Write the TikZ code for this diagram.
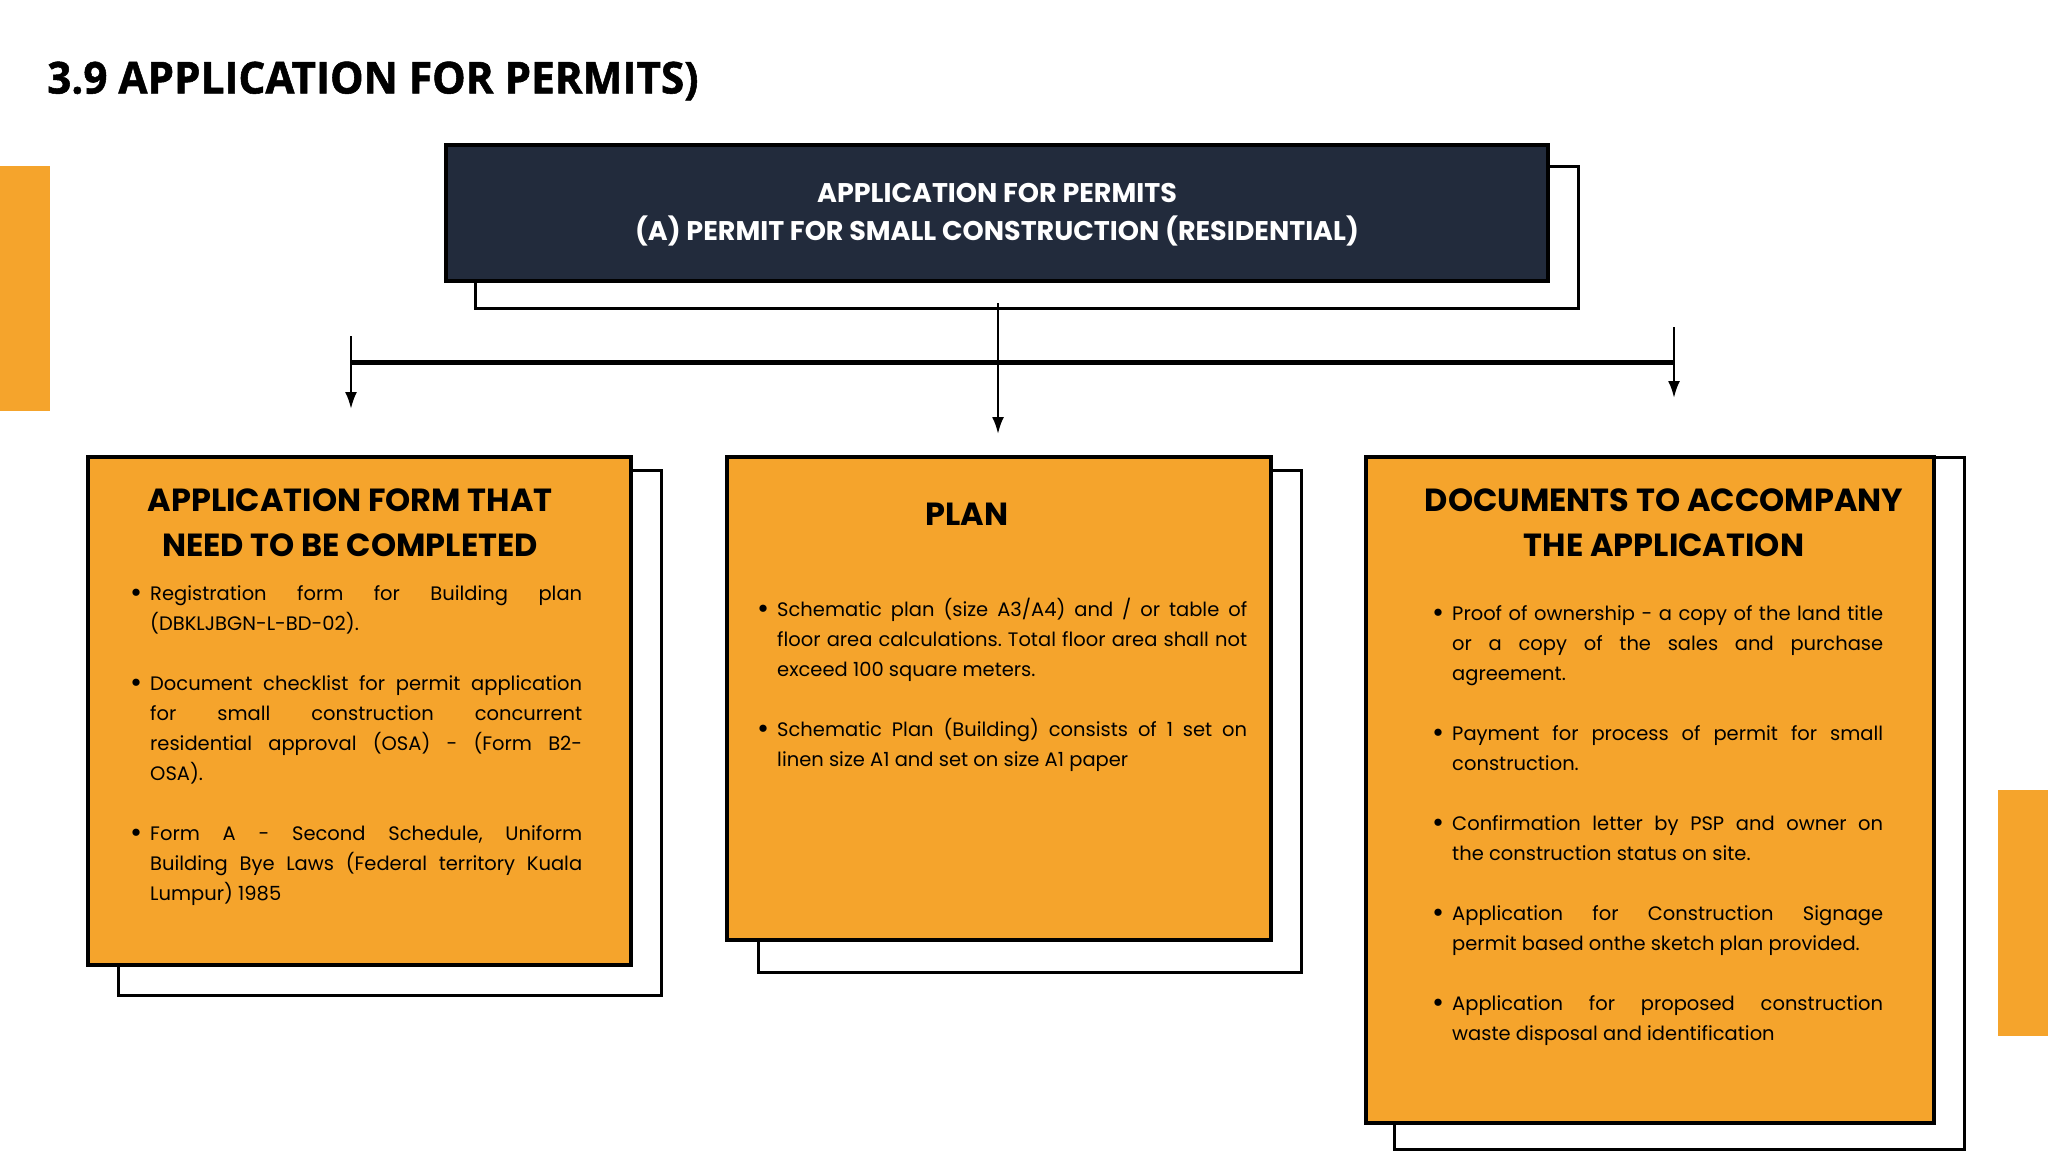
\documentclass[tikz,border=0pt]{standalone}
\usepackage{fontspec}
\usepackage{graphicx}
\setmainfont{Poppins}
\newfontfamily\titlefont{Open Sans}[FakeStretch=0.96,FakeBold=1.2]
\usetikzlibrary{arrows.meta,positioning}
\definecolor{Marigold}{HTML}{F5A42C}
\definecolor{Navy}{HTML}{222B3C}
\newcommand{\bulletpoint}[1]{\par\hangindent=20pt\hangafter=1\noindent\makebox[20pt][l]{\raisebox{-.14em}{\scalebox{1.5}{\textbullet}}}#1\par}
\newcommand{\itemgap}{\par\vspace{30pt}}
\tikzset{
  backcard/.style={draw=black,fill=white,line width=3pt,inner sep=0pt},
  card/.style={draw=black,fill=Marigold,line width=4pt,inner sep=0pt},
  headbox/.style={draw=black,fill=Navy,line width=4pt,inner sep=0pt},
  headlabel/.style={align=center,text=white,font=\bfseries\fontsize{27}{38}\selectfont},
  cardhead/.style={anchor=north,align=center,inner sep=0pt,font=\bfseries\fontsize{32}{45}\selectfont},
  cardlist/.style={anchor=north west,align=justify,inner sep=0pt,font=\fontsize{19.5}{30}\selectfont\frenchspacing},
  flow/.style={-{Latex[length=17pt,width=12pt]},line width=2.5pt},
  busline/.style={line width=5pt},
  sidebar/.style={fill=Marigold,draw=none}
}
\begin{document}
\begin{tikzpicture}[x=1pt,y=-1pt]
\useasboundingbox[fill=white] (0,0) rectangle (2048,1152);
% orange accents on the page edges
\fill[sidebar] (0,166) rectangle (50,411);
\fill[sidebar] (1998,790) rectangle (2048,1036);
\node[anchor=west,inner sep=0pt,font=\titlefont\bfseries\fontsize{44}{44}\selectfont] (title) at (47,81) {3.9 APPLICATION FOR PERMITS)};

% top box
\node[backcard,minimum width=1103pt,minimum height=142pt] (headshadow) at (1026.5,237) {};
\node[headbox,minimum width=1102pt,minimum height=136pt] (head) at (997,213) {};
\node[headlabel] (headtext) at ([yshift=-2pt]head.center) {APPLICATION FOR PERMITS\\(A) PERMIT FOR SMALL CONSTRUCTION (RESIDENTIAL)};

% connectors
\coordinate (trunk) at (998,303);
\coordinate (planin) at (998,434);
\coordinate (busL) at (351,362);
\coordinate (busR) at (1674,362);
\coordinate (formtop) at (351,336);
\coordinate (formin) at (351,409);
\coordinate (docstop) at (1674,327);
\coordinate (docsin) at (1674,398);
\draw[busline] (busL) -- (busR);
\draw[flow] (trunk) -- (planin);
\draw[flow] (formtop) -- (formin);
\draw[flow] (docstop) -- (docsin);

% application form
\node[backcard,minimum width=543pt,minimum height=525pt] (formshadow) at (389.5,732.5) {};
\node[card,minimum width=543pt,minimum height=508pt] (formcard) at (359.5,711) {};
\node[cardhead,below=34pt of formcard.north,xshift=-9.5pt] (formhead) {APPLICATION FORM THAT\\NEED TO BE COMPLETED};
\node[cardlist,text width=452pt,below right=115pt and 44pt of formcard.north west] (formlist) {%
\bulletpoint{Registration form for Building plan\linebreak (DBKLJBGN-L-BD-02).}\itemgap
\bulletpoint{Document checklist for permit application\linebreak for small construction concurrent\linebreak residential approval (OSA) - (Form B2-\linebreak OSA).}\itemgap
\bulletpoint{Form A - Second Schedule, Uniform\linebreak Building Bye Laws (Federal territory Kuala\linebreak Lumpur) 1985}};

% plan
\node[backcard,minimum width=543pt,minimum height=502pt] (planshadow) at (1029.5,721) {};
\node[card,minimum width=544pt,minimum height=483pt] (plancard) at (999,698.5) {};
\node[cardhead,below=48pt of plancard.north,xshift=-32pt] (planhead) {PLAN};
\node[cardlist,text width=490pt,below right=131pt and 32pt of plancard.north west] (planlist) {%
\bulletpoint{Schematic plan (size A3/A4) and / or table of\linebreak floor area calculations. Total floor area shall not\linebreak exceed 100 square meters.}\itemgap
\bulletpoint{Schematic Plan (Building) consists of 1 set on\linebreak linen size A1 and set on size A1 paper}};

% documents to accompany
\node[backcard,minimum width=570pt,minimum height=692pt] (docsshadow) at (1679,803) {};
\node[card,minimum width=568pt,minimum height=666pt] (docscard) at (1650,790) {};
\node[cardhead,below=34pt of docscard.north,xshift=14pt] (docshead) {DOCUMENTS TO ACCOMPANY\\THE APPLICATION};
\node[cardlist,text width=451pt,below right=135pt and 68pt of docscard.north west] (docslist) {%
\bulletpoint{Proof of ownership - a copy of the land title\linebreak or a copy of the sales and purchase\linebreak agreement.}\itemgap
\bulletpoint{Payment for process of permit for small\linebreak construction.}\itemgap
\bulletpoint{Confirmation letter by PSP and owner on\linebreak the construction status on site.}\itemgap
\bulletpoint{Application for Construction Signage\linebreak permit based onthe sketch plan provided.}\itemgap
\bulletpoint{Application for proposed construction\linebreak waste disposal and identification}};
\end{tikzpicture}
\end{document}
